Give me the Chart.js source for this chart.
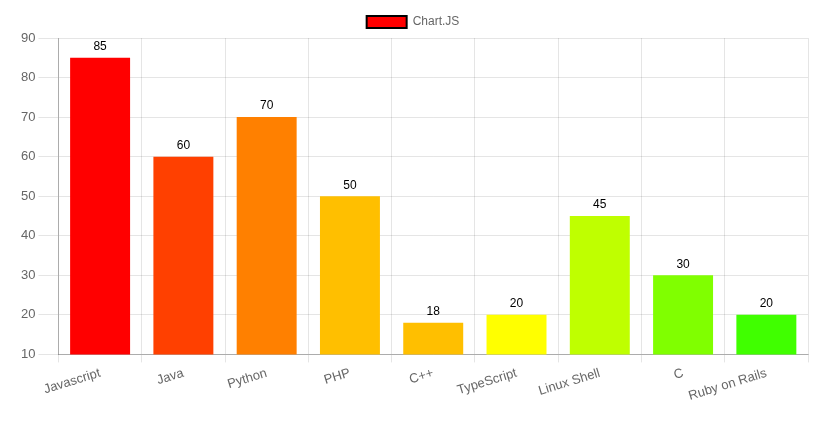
<!DOCTYPE html>
<html><head><meta charset="utf-8">
<script src="https://cdn.jsdelivr.net/npm/chart.js@4"></script>
<style>body{margin:0;background:#fff}#w{width:840px;height:425px}</style>
</head><body><div id="w"><canvas id="c"></canvas></div>
<script>
const categories=["Javascript","Java","Python","PHP","C++","TypeScript","Linux Shell","C","Ruby on Rails"];
const values=[85,60,70,50,18,20,45,30,20];
const colors=["#ff0000","#ff4000","#ff8000","#ffbf00","#ffbf00","#ffff00","#bfff00","#80ff00","#40ff00"];
const yTicks={min:10,max:90,step:10};
Chart.defaults.font.family="'Helvetica Neue',Helvetica,Arial,'Liberation Sans',sans-serif";
Chart.defaults.font.size=12;
Chart.defaults.color="#666";
const labelPlugin={id:'vals',afterDatasetsDraw(ch){const ctx=ch.ctx;const m=ch.getDatasetMeta(0);ctx.save();ctx.fillStyle="#000";ctx.font="12px 'Liberation Sans',Arial,sans-serif";ctx.textAlign="center";ctx.textBaseline="bottom";m.data.forEach((b,i)=>{ctx.fillText(values[i],b.x,b.y-5);});ctx.restore();}};
new Chart(document.getElementById('c'),{type:'bar',
data:{labels:categories,datasets:[{label:'Chart.JS',data:values,backgroundColor:colors,borderWidth:0}]},
options:{responsive:true,maintainAspectRatio:false,animation:false,
layout:{padding:{right:32,left:18,top:6,bottom:18}},
plugins:{legend:{labels:{boxWidth:40,generateLabels:()=>[{text:'Chart.JS',fillStyle:'#ff0000',strokeStyle:'#000',lineWidth:2,fontColor:'#666'}]}},tooltip:{enabled:false}},
scales:{
x:{ticks:{maxRotation:17,minRotation:17,font:{size:13}},grid:{color:'rgba(0,0,0,0.1)',offset:true},border:{color:'rgba(0,0,0,0.25)'}},
y:{min:yTicks.min,max:yTicks.max,ticks:{stepSize:yTicks.step,font:{size:13}},grid:{color:'rgba(0,0,0,0.1)',tickLength:20},border:{color:'rgba(0,0,0,0.25)'}}
}},plugins:[labelPlugin]});
</script></body></html>
